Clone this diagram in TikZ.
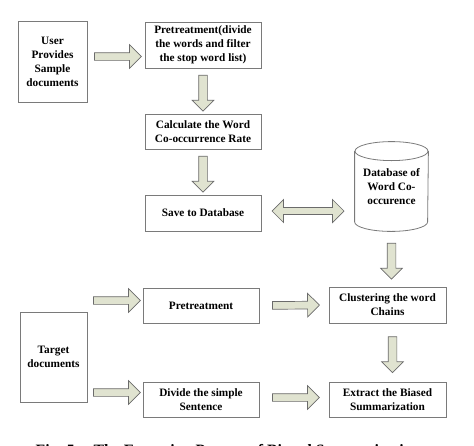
\documentclass[tikz,border=0pt]{standalone}
\usepackage{fontspec}
\setmainfont{Liberation Serif}
\usetikzlibrary{shapes.arrows}
\definecolor{boxgray}{HTML}{7A7A7A}
\definecolor{arrowline}{HTML}{6B6B6B}
\definecolor{arrowfill}{HTML}{E0E3D0}

\begin{document}
\begin{tikzpicture}[x=1pt,y=-1pt,
	box/.style={draw=boxgray, line width=0.8pt, align=center, inner sep=0pt, font=\bfseries\fontsize{11.3}{14}\selectfont},
	fat/.style={single arrow, draw=arrowline, fill=arrowfill, line width=0.7pt, inner xsep=0pt, inner ysep=3.5pt, single arrow head extend=8pt, minimum height=47pt, sloped, allow upside down},
	downfat/.style={fat, inner ysep=4pt, single arrow head extend=6.5pt, minimum height=36pt},
	bothfat/.style={double arrow, draw=arrowline, fill=arrowfill, line width=0.7pt, inner xsep=0pt, inner ysep=3.2pt, double arrow head extend=8pt, minimum height=72pt}]

	\useasboundingbox (0,0) rectangle (474,445);
	\clip (0,0) rectangle (474,445);

	\node[box, minimum width=69pt, minimum height=81pt] (v1) at (52.5,61.5) {User\\Provides\\Sample\\documents};
	\node[box, minimum width=116pt, minimum height=46pt] (v2) at (203,45) {Pretreatment(divide\\the words and filter\\the stop word list)};
	\node[box, minimum width=116pt, minimum height=35pt] (v3) at (203,131.5) {Calculate the Word\\Co-occurrence Rate};
	\node[box, minimum width=116pt, minimum height=36pt] (v4) at (203,213) {Save to Database};
	\node[box, draw=none, minimum width=73pt, minimum height=89pt] (v5) at (391.5,186.5) {Database of\\Word Co-\\occurence};
	\draw[boxgray, line width=0.8pt] ([yshift=-9.5pt]v5.north) ellipse [x radius=36.5pt, y radius=9.5pt];
	\draw[boxgray, line width=0.8pt] ([yshift=-9.5pt]v5.north west) -- ([yshift=9.5pt]v5.south west) arc [start angle=180, end angle=360, x radius=36.5pt, y radius=9.5pt] -- ([yshift=-9.5pt]v5.north east);
	\node[box, minimum width=116pt, minimum height=35pt] (v6) at (201,305.5) {Pretreatment};
	\node[box, minimum width=117pt, minimum height=36pt] (v7) at (387.5,305) {Clustering the word\\Chains};
	\node[box, minimum width=67pt, minimum height=90pt] (v8) at (53.5,357) {Target\\documents};
	\node[box, minimum width=116pt, minimum height=35pt] (v9) at (201,399.5) {Divide the simple\\Sentence};
	\node[box, minimum width=117pt, minimum height=35pt] (v10) at (387.5,399.5) {Extract the Biased\\Summarization};

	\path ([yshift=5pt]v1.east) -- node[fat] {} ([yshift=5pt]v1.east -| v2.west);
	\path (v2.south) -- node[downfat] {} (v3.north);
	\path (v3.south) -- node[downfat] {} (v4.north);
	\path ([yshift=2pt]v4.east) -- node[bothfat] {} ([yshift=2pt]v4.east -| v5.west);
	\path (v5.south) -- node[downfat] {} (v5.south |- v7.north);
	\path ([yshift=5pt]v8.east |- v6.west) -- node[fat] {} ([yshift=5pt]v6.west);
	\path (v6.east) -- node[fat] {} (v7.west);
	\path ([xshift=5pt]v7.south) -- node[downfat] {} ([xshift=5pt]v10.north);
	\path ([yshift=7pt]v8.east |- v9.west) -- node[fat] {} ([yshift=7pt]v9.west);
	\path ([yshift=2pt]v9.east) -- node[fat] {} ([yshift=2pt]v10.west);

	\node[anchor=base, font=\bfseries\fontsize{15.8}{18}\selectfont, inner sep=0pt] (v11) at (228,455) {Fig. 5\hspace{1.2em}The Execution Process of Biased Summarization};
\end{tikzpicture}
\end{document}
